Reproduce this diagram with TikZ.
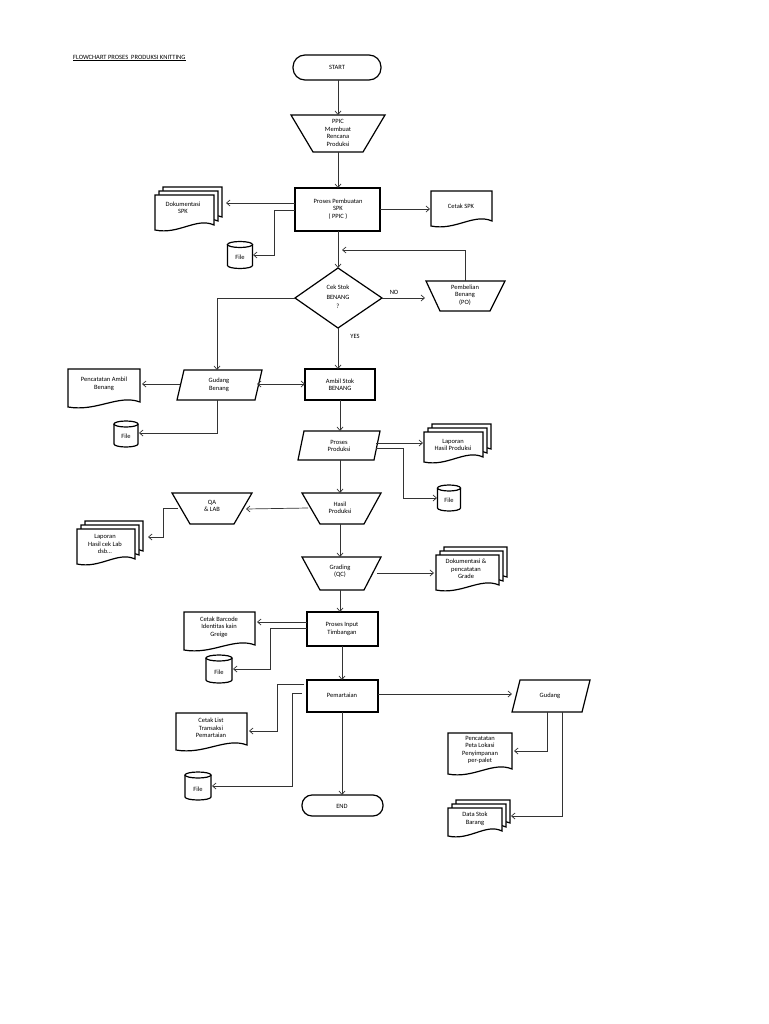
\documentclass[tikz,border=0pt]{standalone}
\usepackage{fontspec}
\setmainfont{Carlito}
\usetikzlibrary{arrows.meta,calc}
\tikzset{
 shp/.style={draw=black,line width=1.2pt,fill=white},
 con/.style={draw=black!80,line width=0.7pt,-{Straight Barb[length=3.5pt,width=6pt]}},
 ln/.style={draw=black!80,line width=0.7pt},
 lbl/.style={font=\fontsize{6.5}{7.5}\selectfont,align=center,inner sep=0pt}
}
\newcommand{\docS}[4]{\draw[shp] (#1,#2) -- (#3,#2) -- (#3,{#4-5}) .. controls ({#3-0.3*(#3-#1)},{#4-13}) and ({#1+0.4*(#3-#1)},{#4+5}) .. (#1,#4) -- cycle;}
\newcommand{\mdocS}[4]{\docS{#1+8}{#2-8}{#3+8}{#4-8}\docS{#1+4}{#2-4}{#3+4}{#4-4}\docS{#1}{#2}{#3}{#4}}
\newcommand{\cylS}[4]{\draw[shp] ({#1-#3/2},{#2-#4/2+3}) -- ({#1-#3/2},{#2+#4/2-3}) arc[start angle=180,end angle=360,x radius=#3/2,y radius=-3] -- ({#1+#3/2},{#2-#4/2+3});
 \draw[shp] (#1,{#2-#4/2+3}) ellipse[x radius=#3/2,y radius=3];}
\begin{document}
\begin{tikzpicture}[x=1pt,y=-1pt]
\useasboundingbox (0,0) rectangle (768,1024);
\node[lbl,anchor=west] (title) at (73,58) {\underline{FLOWCHART PROSES\ \ PRODUKSI KNITTING}};
% START
\draw[shp,rounded corners=12pt] (293,55) rectangle (381,80);
\node[lbl] (start) at (337,67) {START};
\draw[shp] (291,115) -- (385,115) -- (363,152) -- (313,152) -- cycle;
\node[lbl] (ppic) at (338,133) {PPIC\\Membuat\\Rencana\\Produksi};
\draw[shp] (295,188) rectangle (380,231);
\node[lbl] (spk) at (338,209) {Proses Pembuatan\\SPK\\( PPIC )};
\mdocS{155}{195}{214}{230}
\node[lbl] (dspk) at (183,208) {Dokumentasi\\SPK};
\docS{431}{191}{492}{226}
\node[lbl] (cspk) at (461,206) {Cetak SPK};
\cylS{240}{255}{25}{27}
\node[lbl] (f1) at (240,257) {File};
\draw[shp] (338,268) -- (382,298) -- (338,328) -- (295,298) -- cycle;
\node[lbl] (cek) at (338,297) {Cek Stok\\[2pt]BENANG\\[2pt]?};
\draw[shp] (426,281) -- (505,281) -- (490,311) -- (440,311) -- cycle;
\node[lbl] (po) at (465,295) {Pembelian\\Benang\\(PO)};
\node[lbl] (no) at (394,292) {NO};
\node[lbl] (yes) at (355,336) {YES};
\draw[shp] (184,370) -- (262,370) -- (255,400) -- (177,400) -- cycle;
\node[lbl] (gb) at (219,385) {Gudang\\Benang};
\draw[shp] (305,369) rectangle (375,400);
\node[lbl] (ambil) at (340,385) {Ambil Stok\\BENANG};
\docS{68}{369}{140}{407}
\node[lbl] (pab) at (104,384) {Pencatatan Ambil\\Benang};
\cylS{126}{434}{24}{26}
\node[lbl] (f2) at (126,436) {File};
\draw[shp] (304,431) -- (380,431) -- (374,460) -- (298,460) -- cycle;
\node[lbl] (pp) at (339,446) {Proses\\Produksi};
\mdocS{424}{432}{483}{462}
\node[lbl] (lhp) at (453,445) {Laporan\\Hasil Produksi};
\cylS{449}{498}{23}{26}
\node[lbl] (f3) at (449,500) {File};
\draw[shp] (302,493) -- (381,493) -- (364,524) -- (320,524) -- cycle;
\node[lbl] (hp) at (340,508) {Hasil\\Produksi};
\draw[shp] (172,493) -- (252,493) -- (234,524) -- (190,524) -- cycle;
\node[lbl] (qa) at (212,506) {QA\\\& LAB};
\mdocS{77}{529}{135}{564}
\node[lbl] (lab) at (105,544) {Laporan\\Hasil cek Lab\\dsb...};
\draw[shp] (302,557) -- (381,557) -- (364,590) -- (320,590) -- cycle;
\node[lbl] (gr) at (340,571) {Grading\\(QC)};
\mdocS{436}{555}{499}{590}
\node[lbl] (dpg) at (466,569) {Dokumentasi \&\\pencatatan\\Grade};
\draw[shp] (307,612) rectangle (378,646);
\node[lbl] (pit) at (342,629) {Proses Input\\Timbangan};
\docS{184}{612}{255}{650}
\node[lbl] (cb) at (219,627) {Cetak Barcode\\Identitas kain\\Greige};
\cylS{219}{669}{26}{28}
\node[lbl] (f4) at (219,672) {File};
\draw[shp] (307,680) rectangle (378,712);
\node[lbl] (pem) at (342,695) {Pemartaian};
\draw[shp] (520,680) -- (590,680) -- (582,712) -- (512,712) -- cycle;
\node[lbl] (gud) at (550,696) {Gudang};
\docS{176}{713}{247}{750}
\node[lbl] (cl) at (211,728) {Cetak List\\Transaksi\\Pemartaian};
\cylS{198}{786}{26}{28}
\node[lbl] (f5) at (198,789) {File};
\draw[shp,rounded corners=10pt] (302,795) rectangle (383,816);
\node[lbl] (end) at (342,806) {END};
\docS{448}{733}{512}{774}
\node[lbl] (ppl) at (480,750) {Pencatatan\\Peta Lokasi\\Penyimpanan\\per-palet};
\mdocS{448}{808}{502}{836}
\node[lbl] (dsb) at (475,819) {Data Stok\\Barang};
% connectors
\draw[con] (338,80) -- (338,115);
\draw[con] (338,152) -- (338,188);
\draw[con] (295,203) -- (226,203);
\draw[con] (380,209) -- (430,209);
\draw[con] (295,210) -- (274,210) -- (274,255) -- (253,255);
\draw[con] (338,231) -- (338,268);
\draw[con] (465,281) -- (465,250) -- (342,250);
\draw[con] (382,298) -- (425,298);
\draw[con] (338,328) -- (338,369);
\draw[con] (295,298) -- (217,298) -- (217,370);
\draw[con,{Straight Barb[length=3.5pt,width=6pt]}-{Straight Barb[length=3.5pt,width=6pt]}] (257,384) -- (305,384);
\draw[con] (180,384) -- (142,384);
\draw[con] (217,400) -- (217,433) -- (139,433);
\draw[con] (340,400) -- (340,431);
\draw[con] (376,443) -- (423,443);
\draw[con] (376,448) -- (403,448) -- (403,498) -- (437,498);
\draw[con] (340,460) -- (340,493);
\draw[con] (308,508) -- (246,509);
\draw[con] (178,508) -- (163,508) -- (163,537) -- (148,537);
\draw[con] (340,524) -- (340,557);
\draw[con] (377,573) -- (434,573);
\draw[con] (340,590) -- (340,612);
\draw[con] (307,622) -- (257,622);
\draw[con] (307,628) -- (270,628) -- (270,669) -- (233,669);
\draw[con] (342,646) -- (342,680);
\draw[con] (378,694) -- (512,694);
\draw[con] (304,684) -- (277,684) -- (277,731) -- (249,731);
\draw[con] (302,693) -- (292,693) -- (292,786) -- (212,786);
\draw[con] (342,712) -- (342,795);
\draw[con] (547,712) -- (547,751) -- (514,751);
\draw[con] (562,712) -- (562,816) -- (511,816);
\end{tikzpicture}
\end{document}
